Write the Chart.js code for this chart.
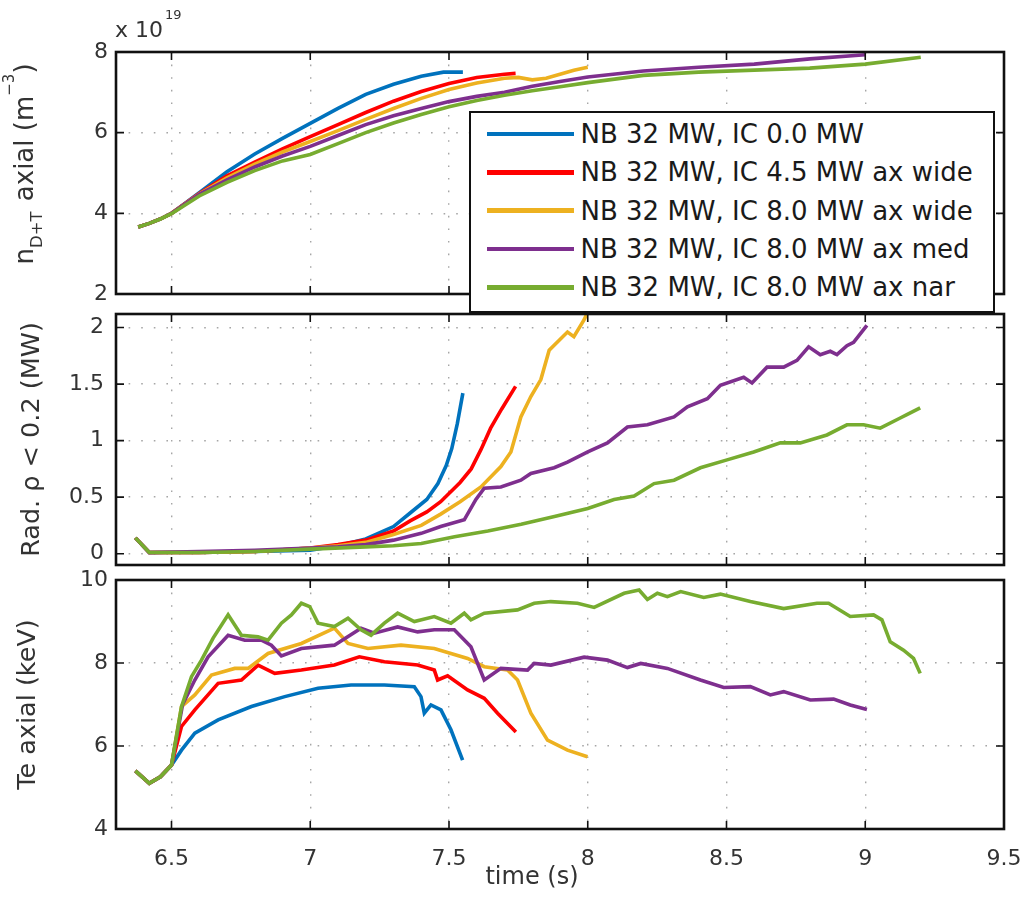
<!DOCTYPE html>
<html>
<head>
<meta charset="utf-8">
<script src="https://cdn.jsdelivr.net/npm/chart.js@4.4.1/dist/chart.umd.min.js"></script>
<style>
  html, body { margin:0; padding:0; background:#fff; }
  #wrap { position:relative; width:1025px; height:901px; overflow:hidden; background:#fff; }
  #wrap canvas { position:absolute; left:0; top:0; }
  #legend { position:absolute; left:469px; top:111px; width:526px; height:202px; box-sizing:border-box;
            border:2.5px solid #111; background:#fff; padding-top:2px;
            font-family:"DejaVu Sans", sans-serif; font-size:26px; color:#1a1a1a; z-index:10; }
  #legend .row { display:flex; align-items:center; height:38.3px; white-space:nowrap; }
  #legend .sw { display:inline-block; width:87px; height:4.5px; margin-left:15.5px; margin-right:7px; }
</style>
</head>
<body>
<div id="wrap">
  <canvas id="cDens" width="1025" height="901"></canvas>
  <canvas id="cRad" width="1025" height="901"></canvas>
  <canvas id="cTe" width="1025" height="901"></canvas>
  <div id="legend"></div>
</div>
<script>
// ---------------- labels, colours, ticks ----------------
const seriesLabels = [
  'NB 32 MW, IC 0.0 MW',
  'NB 32 MW, IC 4.5 MW ax wide',
  'NB 32 MW, IC 8.0 MW ax wide',
  'NB 32 MW, IC 8.0 MW ax med',
  'NB 32 MW, IC 8.0 MW ax nar'
];
const seriesColors = ['#0072BD', '#FF0000', '#EDB120', '#7E2F8E', '#77AC30'];
const xTicks = [6.5, 7, 7.5, 8, 8.5, 9, 9.5];
const densTicks = [2, 4, 6, 8];
const radTicks = [0, 0.5, 1, 1.5, 2];
const teTicks = [4, 6, 8, 10];

// ---------------- panel 1: n_D+T axial (x 1e19 m^-3) ----------------
const densBlueT = [6.38, 6.42, 6.46, 6.5, 6.6, 6.7, 6.8, 6.9, 7.0, 7.1, 7.2, 7.3, 7.4, 7.48, 7.55];
const densBlue  = [3.66, 3.75, 3.86, 4.0, 4.51, 5.03, 5.47, 5.86, 6.23, 6.6, 6.95, 7.2, 7.4, 7.5, 7.5];
const densRedT  = [6.38, 6.42, 6.46, 6.5, 6.6, 6.7, 6.8, 6.9, 7.0, 7.1, 7.2, 7.3, 7.4, 7.5, 7.6, 7.7, 7.74];
const densRed   = [3.66, 3.75, 3.86, 4.0, 4.49, 4.93, 5.27, 5.6, 5.9, 6.2, 6.5, 6.78, 7.02, 7.22, 7.37, 7.45, 7.47];
const densOrangeT = [6.38, 6.42, 6.46, 6.5, 6.6, 6.7, 6.8, 6.9, 7.0, 7.1, 7.2, 7.3, 7.4, 7.5, 7.6, 7.7, 7.75, 7.8, 7.85, 7.9, 7.95, 8.0];
const densOrange  = [3.66, 3.75, 3.86, 4.0, 4.48, 4.88, 5.22, 5.52, 5.78, 6.05, 6.33, 6.6, 6.85, 7.07, 7.23, 7.35, 7.37, 7.31, 7.35, 7.45, 7.55, 7.62];
const densPurpleT = [6.38, 6.42, 6.46, 6.5, 6.6, 6.7, 6.8, 6.9, 7.0, 7.1, 7.2, 7.3, 7.4, 7.5, 7.6, 7.7, 7.8, 7.9, 8.0, 8.2, 8.4, 8.6, 8.8, 9.0];
const densPurple  = [3.66, 3.75, 3.86, 4.0, 4.47, 4.83, 5.15, 5.42, 5.66, 5.93, 6.2, 6.42, 6.6, 6.77, 6.9, 7.0, 7.15, 7.27, 7.38, 7.53, 7.62, 7.7, 7.83, 7.93];
const densGreenT = [6.38, 6.42, 6.46, 6.5, 6.6, 6.7, 6.8, 6.9, 7.0, 7.1, 7.2, 7.3, 7.4, 7.5, 7.6, 7.7, 7.8, 7.9, 8.0, 8.2, 8.4, 8.6, 8.8, 9.0, 9.2];
const densGreen  = [3.66, 3.75, 3.86, 3.99, 4.43, 4.77, 5.06, 5.3, 5.46, 5.73, 6.0, 6.24, 6.45, 6.64, 6.8, 6.93, 7.04, 7.14, 7.24, 7.42, 7.5, 7.55, 7.6, 7.7, 7.87];

// ---------------- panel 2: Rad. rho < 0.2 (MW) ----------------
const radBlueT = [6.37, 6.42, 6.6, 6.8, 7.0, 7.1, 7.2, 7.3, 7.36, 7.42, 7.46, 7.49, 7.51, 7.53, 7.55];
const radBlue  = [0.14, 0.01, 0.01, 0.02, 0.03, 0.07, 0.13, 0.24, 0.36, 0.48, 0.62, 0.78, 0.93, 1.15, 1.42];
const radRedT  = [6.37, 6.42, 6.6, 6.8, 7.0, 7.1, 7.2, 7.3, 7.36, 7.42, 7.47, 7.54, 7.58, 7.615, 7.65, 7.69, 7.74];
const radRed   = [0.14, 0.01, 0.01, 0.02, 0.05, 0.08, 0.12, 0.2, 0.29, 0.37, 0.46, 0.63, 0.75, 0.92, 1.11, 1.28, 1.48];
const radOrangeT = [6.37, 6.42, 6.6, 6.8, 7.0, 7.1, 7.2, 7.3, 7.4, 7.47, 7.54, 7.615, 7.687, 7.723, 7.759, 7.795, 7.831, 7.861, 7.927, 7.95, 7.987, 8.0];
const radOrange  = [0.14, 0.01, 0.01, 0.02, 0.05, 0.07, 0.1, 0.17, 0.25, 0.35, 0.46, 0.59, 0.77, 0.9, 1.21, 1.39, 1.54, 1.8, 1.96, 1.92, 2.07, 2.14];
const radPurpleT = [6.37, 6.42, 6.6, 6.8, 7.0, 7.1, 7.2, 7.3, 7.4, 7.47, 7.555, 7.597, 7.627, 7.687, 7.759, 7.795, 7.879, 7.927, 8.0, 8.071, 8.143, 8.215, 8.311, 8.359, 8.431, 8.478, 8.562, 8.592, 8.646, 8.706, 8.754, 8.796, 8.838, 8.874, 8.898, 8.934, 8.958, 9.006];
const radPurple  = [0.14, 0.01, 0.02, 0.03, 0.05, 0.06, 0.08, 0.12, 0.18, 0.24, 0.3, 0.48, 0.58, 0.59, 0.65, 0.71, 0.76, 0.81, 0.9, 0.98, 1.12, 1.14, 1.21, 1.3, 1.37, 1.49, 1.56, 1.51, 1.65, 1.65, 1.71, 1.83, 1.76, 1.79, 1.76, 1.84, 1.87, 2.02];
const radGreenT = [6.37, 6.42, 6.6, 6.8, 7.0, 7.2, 7.3, 7.4, 7.52, 7.64, 7.76, 7.88, 8.0, 8.095, 8.167, 8.239, 8.311, 8.406, 8.502, 8.598, 8.694, 8.766, 8.862, 8.934, 8.994, 9.054, 9.126, 9.15, 9.198];
const radGreen  = [0.14, 0.01, 0.01, 0.02, 0.04, 0.06, 0.07, 0.09, 0.15, 0.2, 0.26, 0.33, 0.4, 0.48, 0.51, 0.62, 0.65, 0.76, 0.83, 0.9, 0.98, 0.98, 1.05, 1.14, 1.14, 1.11, 1.2, 1.23, 1.29];

// ---------------- panel 3: Te axial (keV) ----------------
const teBlueT = [6.37, 6.42, 6.46, 6.5, 6.536, 6.584, 6.668, 6.788, 6.908, 7.028, 7.147, 7.267, 7.375, 7.399, 7.411, 7.435, 7.471, 7.507, 7.549];
const teBlue  = [5.4, 5.1, 5.26, 5.54, 5.9, 6.31, 6.63, 6.95, 7.19, 7.39, 7.47, 7.47, 7.43, 7.19, 6.79, 6.99, 6.87, 6.39, 5.66];
const teRedT  = [6.37, 6.42, 6.46, 6.5, 6.536, 6.584, 6.668, 6.752, 6.812, 6.872, 6.968, 7.087, 7.177, 7.267, 7.387, 7.447, 7.459, 7.495, 7.567, 7.627, 7.675, 7.741];
const teRed   = [5.4, 5.1, 5.26, 5.54, 6.47, 6.87, 7.51, 7.59, 7.95, 7.75, 7.83, 7.95, 8.15, 8.03, 7.95, 7.83, 7.59, 7.69, 7.35, 7.15, 6.79, 6.34];
const teOrangeT = [6.37, 6.42, 6.46, 6.5, 6.536, 6.584, 6.644, 6.728, 6.776, 6.848, 6.968, 7.087, 7.136, 7.208, 7.327, 7.447, 7.567, 7.627, 7.711, 7.747, 7.795, 7.855, 7.927, 7.999];
const teOrange  = [5.4, 5.1, 5.26, 5.54, 6.95, 7.23, 7.71, 7.87, 7.87, 8.23, 8.47, 8.84, 8.47, 8.35, 8.43, 8.35, 8.11, 7.91, 7.83, 7.59, 6.79, 6.14, 5.9, 5.74];
const tePurpleT = [6.37, 6.42, 6.46, 6.5, 6.54, 6.584, 6.632, 6.704, 6.764, 6.824, 6.86, 6.896, 6.968, 7.087, 7.183, 7.231, 7.315, 7.387, 7.447, 7.519, 7.579, 7.627, 7.687, 7.783, 7.807, 7.867, 7.987, 8.071, 8.143, 8.191, 8.287, 8.406, 8.49, 8.586, 8.658, 8.706, 8.802, 8.886, 8.946, 9.006];
const tePurple  = [5.4, 5.1, 5.26, 5.54, 7.0, 7.59, 8.15, 8.67, 8.55, 8.55, 8.43, 8.17, 8.35, 8.43, 8.84, 8.72, 8.87, 8.75, 8.8, 8.8, 8.39, 7.59, 7.87, 7.83, 7.99, 7.95, 8.14, 8.07, 7.89, 7.99, 7.87, 7.59, 7.41, 7.43, 7.23, 7.31, 7.11, 7.13, 6.99, 6.88];
const teGreenT = [6.37, 6.42, 6.46, 6.5, 6.536, 6.572, 6.608, 6.65, 6.704, 6.752, 6.812, 6.848, 6.896, 6.932, 6.968, 6.998, 7.028, 7.087, 7.136, 7.183, 7.219, 7.267, 7.315, 7.375, 7.447, 7.507, 7.555, 7.579, 7.627, 7.747, 7.807, 7.867, 7.963, 8.023, 8.131, 8.185, 8.215, 8.251, 8.287, 8.335, 8.418, 8.478, 8.586, 8.706, 8.826, 8.868, 8.946, 9.03, 9.06, 9.09, 9.138, 9.174, 9.198];
const teGreen  = [5.4, 5.1, 5.26, 5.54, 6.95, 7.67, 8.07, 8.6, 9.16, 8.67, 8.63, 8.55, 8.96, 9.16, 9.44, 9.36, 8.96, 8.88, 9.08, 8.8, 8.67, 8.96, 9.2, 9.0, 9.12, 8.96, 9.2, 9.04, 9.2, 9.28, 9.44, 9.48, 9.44, 9.34, 9.68, 9.76, 9.53, 9.68, 9.6, 9.72, 9.58, 9.66, 9.48, 9.31, 9.44, 9.44, 9.12, 9.16, 9.04, 8.51, 8.31, 8.11, 7.75];

// ---------------- layout constants ----------------
const W = 1025, H = 901;
const PLOT_LEFT = 116;
const RIGHT_PAD = 21;
const xMin = 6.3, xMax = 9.5;
const FONT = '"DejaVu Sans", sans-serif';
const TEXT = '#333333';

const framePlugin = {
  id: 'matlabFrame',
  afterDatasetsDraw(chart) {
    const { ctx, chartArea: a, scales: { x, y } } = chart;
    const L = 8;
    ctx.save();
    ctx.strokeStyle = '#111';
    ctx.lineWidth = 1.6;
    ctx.beginPath();
    x.ticks.forEach(t => {
      const px = x.getPixelForValue(t.value);
      ctx.moveTo(px, a.bottom); ctx.lineTo(px, a.bottom - L);
      ctx.moveTo(px, a.top); ctx.lineTo(px, a.top + L);
    });
    y.ticks.forEach(t => {
      const py = y.getPixelForValue(t.value);
      ctx.moveTo(a.left, py); ctx.lineTo(a.left + L, py);
      ctx.moveTo(a.right, py); ctx.lineTo(a.right - L, py);
    });
    ctx.stroke();
    ctx.lineWidth = 2.6;
    ctx.strokeRect(a.left, a.top, a.right - a.left, a.bottom - a.top);
    ctx.restore();
  }
};

function richTextPlugin(items) {
  return {
    id: 'richText',
    afterDraw(chart) {
      const ctx = chart.ctx, a = chart.chartArea;
      items.forEach(it => {
        ctx.save();
        const y = it.y === 'mid' ? (a.top + a.bottom) / 2 + (it.dy || 0) : it.y;
        ctx.translate(it.x, y);
        if (it.rotate) ctx.rotate(it.rotate);
        const widths = it.runs.map(r => { ctx.font = r.size + 'px ' + FONT; return ctx.measureText(r.text).width; });
        const total = widths.reduce((s, w) => s + w, 0);
        let cx = it.align === 'center' ? -total / 2 : 0;
        ctx.fillStyle = TEXT;
        ctx.textBaseline = it.baseline || 'alphabetic';
        it.runs.forEach((r, i) => {
          ctx.font = r.size + 'px ' + FONT;
          ctx.fillText(r.text, cx, r.shift || 0);
          cx += widths[i] + (r.gap || 0);
        });
        ctx.restore();
      });
    }
  };
}

function build(id, cfg) {
  const datasets = cfg.series.map((s, i) => ({
    label: seriesLabels[i],
    data: s[0].map((t, k) => ({ x: t, y: s[1][k] })),
    borderColor: seriesColors[i],
    backgroundColor: seriesColors[i],
    borderWidth: 3.6,
    pointRadius: 0,
    tension: 0,
    fill: false,
    order: seriesColors.length - i
  }));
  const gridOpts = { color: '#a6a6a6', lineWidth: 1.4, drawTicks: false };
  const borderOpts = { display: false, dash: [1.6, 11] };
  return new Chart(document.getElementById(id), {
    type: 'line',
    data: { datasets },
    options: {
      responsive: false, animation: false, events: [],
      layout: { autoPadding: false, padding: { top: cfg.top, left: 0, right: RIGHT_PAD, bottom: cfg.showX ? 0 : H - cfg.bottom } },
      plugins: { legend: { display: false }, tooltip: { enabled: false }, title: { display: false } },
      scales: {
        x: {
          type: 'linear', min: xMin, max: xMax,
          afterBuildTicks: s => { s.ticks = xTicks.map(v => ({ value: v })); },
          afterFit: s => {
            s.height = cfg.showX ? H - cfg.bottom : 0;
            s.paddingLeft = 0; s.paddingRight = 0;
          },
          grid: gridOpts, border: borderOpts,
          ticks: { display: !!cfg.showX, padding: 17, color: TEXT, font: { family: FONT, size: 22 },
                   maxRotation: 0, autoSkip: false, callback: v => String(v) }
        },
        y: {
          type: 'linear', min: cfg.yMin, max: cfg.yMax,
          afterBuildTicks: s => { s.ticks = cfg.yTicks.map(v => ({ value: v })); },
          afterFit: s => { s.width = PLOT_LEFT; s.paddingTop = 0; s.paddingBottom = 0; },
          grid: gridOpts, border: borderOpts,
          ticks: { padding: cfg.yPad, color: TEXT, font: { family: FONT, size: 22 }, callback: v => String(v) },
          title: cfg.yTitle
            ? { display: true, text: cfg.yTitle, color: TEXT, font: { family: FONT, size: 25.5 }, padding: { top: cfg.yTitlePad, bottom: 0 } }
            : { display: false }
        }
      }
    },
    plugins: [framePlugin, richTextPlugin(cfg.rich || [])]
  });
}

const densChart = build('cDens', {
  top: 52, bottom: 294, yMin: 2, yMax: 8, yTicks: densTicks, yPad: 8,
  series: [[densBlueT, densBlue], [densRedT, densRed], [densOrangeT, densOrange], [densPurpleT, densPurple], [densGreenT, densGreen]],
  rich: [
    { x: 33, y: 'mid', dy: -8, rotate: -Math.PI / 2, align: 'center', runs: [
      { text: 'n', size: 26 },
      { text: 'D+T', size: 16.5, shift: 9, gap: 2 },
      { text: ' axial (m', size: 26 },
      { text: '\u22123', size: 15, shift: -19 },
      { text: ')', size: 26 }
    ] },
    { x: 115, y: 37, runs: [
      { text: 'x 10', size: 22, gap: 2 },
      { text: '19', size: 13, shift: -18 }
    ] }
  ]
});

const radChart = build('cRad', {
  top: 314, bottom: 565, yMin: -0.1, yMax: 2.12, yTicks: radTicks, yPad: 12,
  yTitle: 'Rad. \u03c1 < 0.2 (MW)', yTitlePad: 17,
  series: [[radBlueT, radBlue], [radRedT, radRed], [radOrangeT, radOrange], [radPurpleT, radPurple], [radGreenT, radGreen]]
});

const teChart = build('cTe', {
  top: 580, bottom: 829, yMin: 4, yMax: 10, yTicks: teTicks, yPad: 8, showX: true,
  yTitle: 'Te axial (keV)', yTitlePad: 13,
  series: [[teBlueT, teBlue], [teRedT, teRed], [teOrangeT, teOrange], [tePurpleT, tePurple], [teGreenT, teGreen]],
  rich: [
    { x: 532, y: 878, align: 'center', baseline: 'middle', runs: [{ text: 'time (s)', size: 24 }] }
  ]
});

// HTML legend generated from the chart's datasets
const lg = document.getElementById('legend');
teChart.data.datasets.forEach(ds => {
  const row = document.createElement('div'); row.className = 'row';
  const sw = document.createElement('span'); sw.className = 'sw'; sw.style.background = ds.borderColor;
  const tx = document.createElement('span'); tx.textContent = ds.label;
  row.append(sw, tx); lg.append(row);
});
</script>
</body>
</html>
